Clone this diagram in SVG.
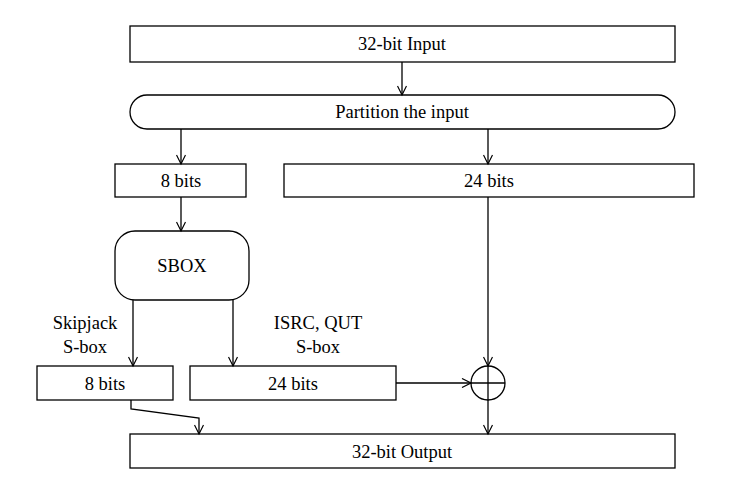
<svg xmlns="http://www.w3.org/2000/svg" width="735" height="502" viewBox="0 0 735 502">
<defs>
<marker id="a" markerWidth="12" markerHeight="10" refX="10" refY="5" orient="auto" markerUnits="userSpaceOnUse"><path d="M1,0.5 L10,5 L1,9.5" fill="none" stroke="#000" stroke-width="1.2"/></marker>
<style>
.b{fill:#fff;stroke:#000;stroke-width:1.3}
.t{font-family:"Liberation Serif",serif;font-size:18.5px;text-anchor:middle;fill:#000}
.c{fill:none;stroke:#000;stroke-width:1.3;marker-end:url(#a)}
</style>
</defs>
<rect width="735" height="502" fill="#fff"/>
<g id="input"><rect class="b" x="130" y="26" width="545" height="36"/><text class="t" x="402" y="50">32-bit Input</text></g>
<g id="partition"><rect class="b" x="130" y="95" width="545" height="34" rx="17"/><text class="t" x="402" y="118">Partition the input</text></g>
<g id="b8a"><rect class="b" x="115" y="164" width="131" height="33"/><text class="t" x="181" y="187">8 bits</text></g>
<g id="b24a"><rect class="b" x="284" y="164" width="410" height="33"/><text class="t" x="489" y="187">24 bits</text></g>
<g id="sbox"><rect class="b" x="115" y="231" width="134" height="69" rx="20"/><text class="t" x="182" y="272">SBOX</text></g>
<g id="lab1"><text class="t" x="85" y="329">Skipjack</text><text class="t" x="85" y="353">S-box</text></g>
<g id="lab2"><text class="t" x="318" y="329">ISRC, QUT</text><text class="t" x="318" y="353">S-box</text></g>
<g id="b8b"><rect class="b" x="37" y="366" width="136" height="34"/><text class="t" x="105" y="390">8 bits</text></g>
<g id="b24b"><rect class="b" x="190" y="366" width="206" height="34"/><text class="t" x="293" y="390">24 bits</text></g>
<g id="xor"><circle cx="488" cy="383" r="17" fill="#fff" stroke="#000" stroke-width="1.3"/><line x1="471" y1="383" x2="505" y2="383" stroke="#000" stroke-width="1.3"/></g>
<g id="output"><rect class="b" x="130" y="434" width="545" height="34"/><text class="t" x="402" y="458">32-bit Output</text></g>
<g id="connectors">
<path class="c" d="M402,62 V95"/>
<path class="c" d="M181,129 V164"/>
<path class="c" d="M488,129 V164"/>
<path class="c" d="M181,197 V231"/>
<path class="c" d="M133,300 V366"/>
<path class="c" d="M233,300 V366"/>
<path class="c" d="M488,197 V366"/>
<path class="c" d="M488,366 V434"/>
<path class="c" d="M396,383 H471"/>
<path class="c" d="M131,400 V409 L199,418 V434"/>
</g>
</svg>
